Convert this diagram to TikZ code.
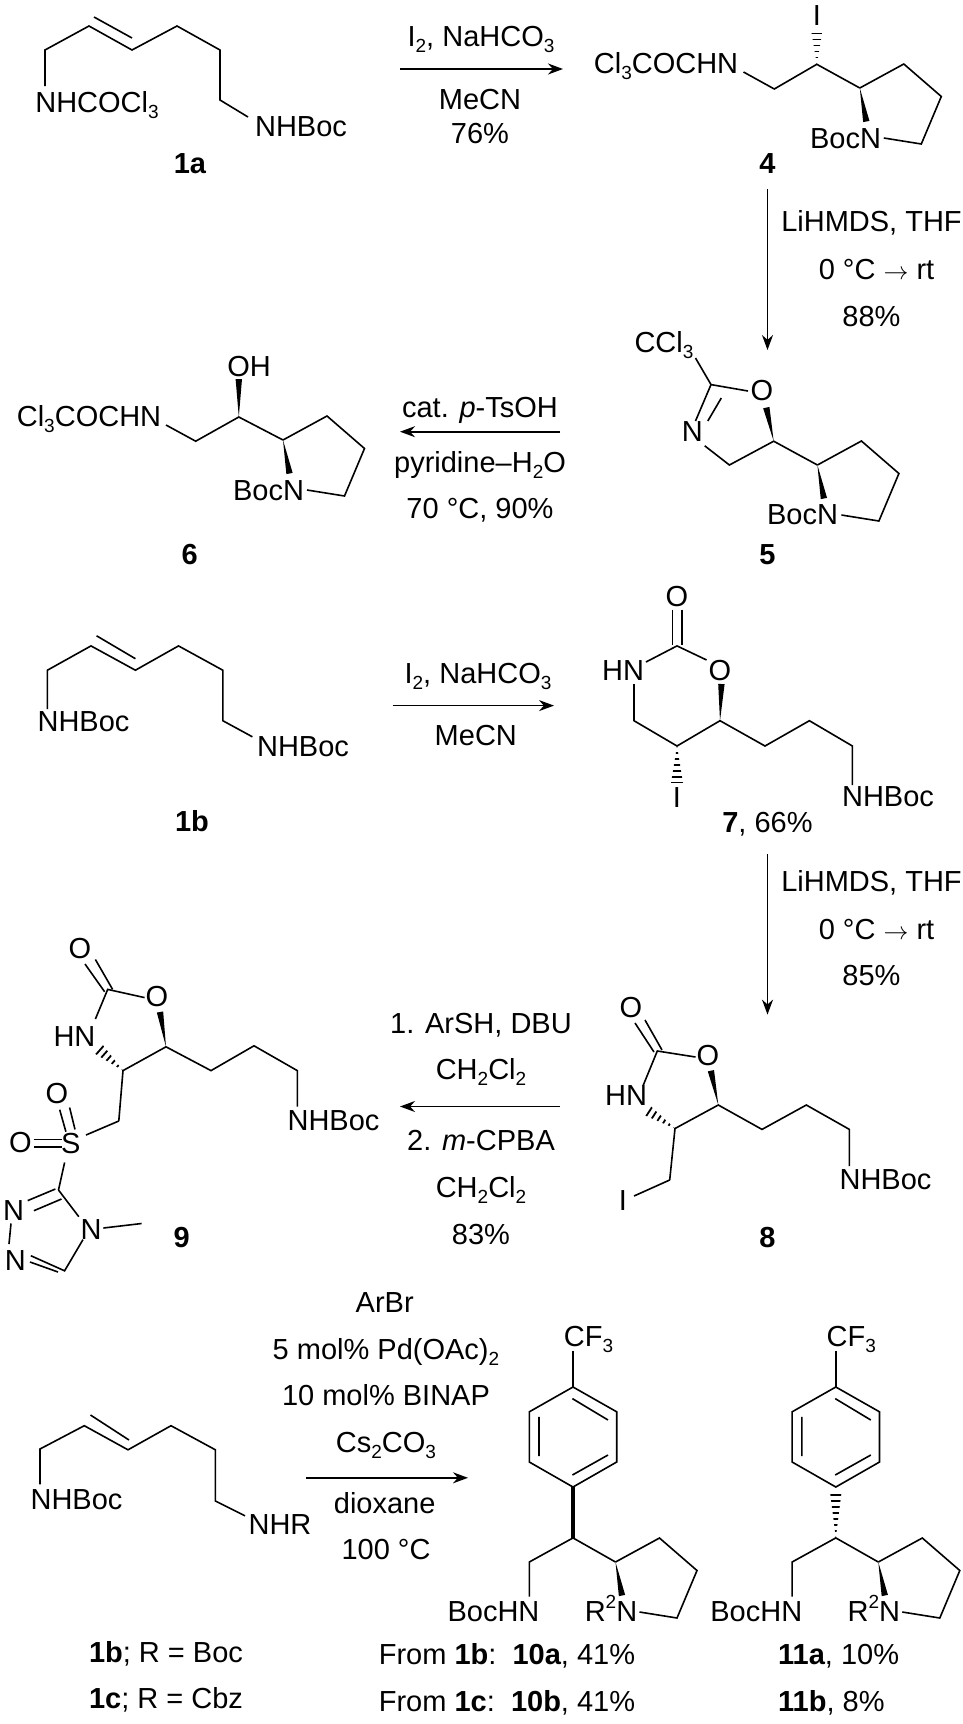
\documentclass[tikz,border=0pt]{standalone}
\usepackage{fontspec}
\setmainfont{Liberation Sans}
\usepgflibrary{arrows.meta}
\usetikzlibrary{calc}
\tikzset{
	txt/.style={font=\fontsize{29}{30}\selectfont,inner sep=0pt,anchor=base},
	cmpd/.style={txt,font=\fontsize{29}{30}\selectfont\bfseries},
	bond/.style={line width=1.6pt,line join=miter},
	rxn/.style={line width=1.6pt,-{Stealth[length=15pt,width=11pt]}},
	bold/.style={line width=4.6pt},
}
\newcommand{\subs}[1]{\raisebox{-0.22em}{\fontsize{19}{20}\selectfont #1}}
\newcommand{\sups}[1]{\raisebox{0.42em}{\fontsize{19}{20}\selectfont #1}}
\newcommand{\wdg}[2]{\fill #1 -- ($#2!3.2pt!90:#1$) -- ($#2!3.2pt!-90:#1$) -- cycle;}
\newcommand{\hsh}[2]{\begin{scope}
	\clip #1 -- ($#2!6pt!90:#1$) -- ($#2!6pt!-90:#1$) -- cycle;
	\draw [line width=13pt,dash pattern=on 1.8pt off 4.2pt] #1 -- #2;
	\end{scope}}
\newcommand{\pyrr}[2]{\begin{scope}[shift={(#1,#2)}]
	\draw [bond] (0,0) -- (44,-24) -- (81.5,8.5) -- (61.5,56) -- (24,50);
	\wdg{(0,0)}{(6.5,33.5)}
	\end{scope}}
\begin{document}
\begin{tikzpicture}[x=1pt,y=-1pt]
	\useasboundingbox (0,0) rectangle (962,1724);

	% 1a -> 4
	\draw [bond] (45,86) -- (45,50) -- (89,26) -- (132,50) -- (177,26) -- (220,50) -- (220,100) -- (248,117);
	\draw [bond] (94,17) -- (132,38);
	\node [txt] (nCl1a) at (97,112) {NHCOCl\subs{3}};
	\node [txt] (nBoc1a) at (301,136) {NHBoc};
	\node [cmpd] (n1a) at (190,173) {1a};

	\coordinate (r1s) at (400,69);
	\coordinate (r1e) at (563,69);
	\draw [rxn] (r1s) -- (r1e);
	\node [txt] (r1a) at (481,46) {I\subs{2}, NaHCO\subs{3}};
	\node [txt] (r1b) at (480,109) {MeCN};
	\node [txt] (r1c) at (480,143) {76\%};

	\node [txt] (nCl4) at (666,73) {Cl\subs{3}COCHN};
	\draw [bond] (743.5,72) -- (774.3,89) -- (816.8,64.3) -- (859.8,88);
	\hsh{(816.8,64.3)}{(816.8,29)}
	\node [txt] (nI4) at (816.8,25) {I};
	\pyrr{859.8}{88}
	\node [txt] (nBoc4) at (845.5,148.5) {BocN};
	\node [cmpd] (n4) at (767.5,173) {4};

	% 4 -> 5
	\coordinate (r2s) at (767.5,189);
	\coordinate (r2e) at (767.5,350);
	\draw [rxn] (r2s) -- (r2e);
	\node [txt] (r2a) at (871.5,231.5) {LiHMDS, THF};
	\node [txt] (r2b) at (876.5,279) {0 °C $\rightarrow$ rt};
	\node [txt] (r2c) at (871.5,326) {88\%};

	\node [txt] (nCCl5) at (664,352) {CCl\subs{3}};
	\draw [bond] (695.5,358) -- (711,384.6) -- (748,391);
	\draw [bond] (711,384.6) -- (695.5,421);
	\draw [bond] (721.3,398) -- (707.8,421);
	\node [txt] (nO5) at (762,400) {O};
	\node [txt] (nN5) at (692.4,441) {N};
	\draw [bond] (704.7,445.8) -- (729.4,465) -- (773.7,441.2) -- (817.4,465);
	\wdg{(773.7,441.2)}{(766.3,407.6)}
	\pyrr{817.4}{465}
	\node [txt] (nBoc5) at (802.5,524) {BocN};
	\node [cmpd] (n5) at (767.5,564) {5};

	% 5 -> 6
	\coordinate (r3s) at (560,431.7);
	\coordinate (r3e) at (400,431.7);
	\draw [rxn] (r3s) -- (r3e);
	\node [txt] (r3a) at (480,417) {cat. \textit{p}-TsOH};
	\node [txt] (r3b) at (480,472.6) {pyridine–H\subs{2}O};
	\node [txt] (r3c) at (480,518.6) {70 °C, 90\%};

	\node [txt] (nCl6) at (89,426) {Cl\subs{3}COCHN};
	\draw [bond] (166,425) -- (195.7,441.2) -- (238.8,417) -- (283,440);
	\wdg{(238.8,417)}{(238.8,379)}
	\node [txt] (nOH6) at (249,376) {OH};
	\pyrr{283}{440}
	\node [txt] (nBoc6) at (268.5,500) {BocN};
	\node [cmpd] (n6) at (189.6,564) {6};

	% 1b -> 7
	\draw [bond] (47.4,709) -- (47.4,670.2) -- (91,645.9) -- (135.4,670.2) -- (178.5,645.9) -- (222.8,670.2) -- (222.8,720.7) -- (252.4,736.8);
	\draw [bond] (96.6,635.8) -- (135.4,658.7);
	\node [txt] (nBoc1b) at (83.5,731) {NHBoc};
	\node [txt] (nBocb) at (303,756) {NHBoc};
	\node [cmpd] (n1b) at (192,831) {1b};

	\coordinate (r4s) at (392.7,705.6);
	\coordinate (r4e) at (554,705.6);
	\draw [rxn] (r4s) -- (r4e);
	\node [txt] (r4a) at (478,683) {I\subs{2}, NaHCO\subs{3}};
	\node [txt] (r4b) at (475.8,745) {MeCN};

	\node [txt] (nO7) at (677,606) {O};
	\draw [bond] (672.5,609.6) -- (672.5,645) (682,609.6) -- (682,645);
	\draw [bond] (706.6,660) -- (677,645.9) -- (646,662);
	\node [txt] (nO7b) at (720,680) {O};
	\node [txt] (nHN7) at (623,680) {HN};
	\draw [bond] (634,684) -- (634,720.7) -- (677,746) -- (720,720.7) -- (765,746) -- (809.4,720.7) -- (852.4,746) -- (852.4,785);
	\wdg{(720,720.7)}{(721.4,684)}
	\hsh{(677,746)}{(677,783)}
	\node [txt] (nI7) at (677,807) {I};
	\node [txt] (nBoc7) at (888,806.6) {NHBoc};
	\node [txt] (n7) at (767.5,832) {\textbf{7}, 66\%};

	% 7 -> 8
	\coordinate (r5s) at (767.5,854);
	\coordinate (r5e) at (767.5,1014.6);
	\draw [rxn] (r5s) -- (r5e);
	\node [txt] (r5a) at (871.5,891.5) {LiHMDS, THF};
	\node [txt] (r5b) at (876.5,939) {0 °C $\rightarrow$ rt};
	\node [txt] (r5c) at (871.5,985.7) {85\%};

	\node [txt] (nO8) at (631,1017) {O};
	\draw [bond] (635,1023) -- (654,1052) (645,1020) -- (662,1050);
	\draw [bond] (695.5,1057) -- (657.3,1051) -- (643,1085.8);
	\node [txt] (nO8b) at (707.8,1065) {O};
	\node [txt] (nHN8) at (626,1105) {HN};
	\hsh{(675,1128.5)}{(645,1109)}
	\draw [bond] (669.7,1180) -- (675,1128.5) -- (718.3,1105) -- (762,1129.4) -- (806.3,1105) -- (849.4,1129.4) -- (849.4,1166);
	\draw [bond] (669.7,1180) -- (634,1196);
	\wdg{(718.3,1105)}{(710.9,1070.7)}
	\node [txt] (nI8) at (623,1210.6) {I};
	\node [txt] (nBoc8) at (885.5,1189) {NHBoc};
	\node [cmpd] (n8) at (767.5,1247) {8};

	% 8 -> 9
	\coordinate (r6s) at (560,1106.5);
	\coordinate (r6e) at (400,1106.5);
	\draw [rxn] (r6s) -- (r6e);
	\node [txt] (r6a) at (481,1033) {1. ArSH, DBU};
	\node [txt] (r6b) at (481,1079) {CH\subs{2}Cl\subs{2}};
	\node [txt] (r6c) at (481,1150) {2. \textit{m}-CPBA};
	\node [txt] (r6d) at (481,1197) {CH\subs{2}Cl\subs{2}};
	\node [txt] (r6y) at (481,1244) {83\%};

	\node [txt] (nO9) at (80,958) {O};
	\draw [bond] (85,964) -- (104.6,991.7) (95.4,959.5) -- (112.6,989.4);
	\draw [bond] (144.6,997.6) -- (107.7,989.4) -- (95.4,1019);
	\node [txt] (nO9b) at (157,1006) {O};
	\node [txt] (nHN9) at (74.5,1046.8) {HN};
	\hsh{(123,1070.6)}{(98.5,1049)}
	\draw [bond] (118.8,1121) -- (123,1070.6) -- (166,1046.8) -- (211,1070.6) -- (254,1045.8) -- (297.3,1070.6) -- (297.3,1106.5);
	\draw [bond] (118.8,1121) -- (86,1135);
	\wdg{(166,1046.8)}{(160,1012)}
	\node [txt] (nBoc9) at (333.5,1130.8) {NHBoc};
	\node [txt] (nS9) at (70.8,1153) {S};
	\node [txt] (nOa9) at (20.3,1152) {O};
	\node [txt] (nOb9) at (57,1103.6) {O};
	\draw [bond] (33.9,1139.5) -- (61.5,1139.5) (33.9,1147) -- (61.5,1147);
	\draw [bond] (59.7,1109.7) -- (65.9,1131.7) (69.6,1107.5) -- (75,1129.4);
	\draw [bond] (64.6,1162.5) -- (58.5,1190);
	\draw [bond] (27.7,1200.6) -- (55.4,1189) (33.9,1210.7) -- (61.5,1199);
	\draw [bond] (58.5,1190) -- (78.8,1216.7);
	\node [txt] (nNa9) at (13.5,1220) {N};
	\node [txt] (nNb9) at (91,1239.6) {N};
	\node [txt] (nNc9) at (15.4,1270) {N};
	\draw [bond] (11,1223.5) -- (9,1244);
	\draw [bond] (103.4,1228) -- (141.6,1223.5);
	\draw [bond] (83,1239.6) -- (64.6,1270.8) -- (30.8,1255.7);
	\draw [bond] (58,1272) -- (30,1262);
	\node [cmpd] (n9) at (181.6,1247) {9};

	% 1b,1c -> 10, 11
	\draw [bond] (40,1484.4) -- (40,1449) -- (84.3,1425.7) -- (128,1449.8) -- (171,1425.7) -- (215.4,1449.8) -- (215.4,1501) -- (245,1515.8);
	\draw [bond] (90.5,1415) -- (129,1440);
	\node [txt] (nBoc1c) at (76.5,1509) {NHBoc};
	\node [txt] (nNHR) at (280,1534.6) {NHR};
	\node [txt] (n1bb) at (166,1662.6) {\textbf{1b}; R = Boc};
	\node [txt] (n1c) at (166,1708.8) {\textbf{1c}; R = Cbz};

	\coordinate (r7s) at (306,1477.8);
	\coordinate (r7e) at (468,1477.8);
	\draw [rxn] (r7s) -- (r7e);
	\node [txt] (r7a) at (384.7,1312.8) {ArBr};
	\node [txt] (r7b) at (386,1359) {5 mol\% Pd(OAc)\subs{2}};
	\node [txt] (r7c) at (386,1405) {10 mol\% BINAP};
	\node [txt] (r7d) at (386,1452) {Cs\subs{2}CO\subs{3}};
	\node [txt] (r7f) at (384.7,1513) {dioxane};
	\node [txt] (r7g) at (386,1559.6) {100 °C};

	\foreach \dx/\lab in {0/a,262.8/b} {
		\begin{scope}[xshift=\dx pt]
			\draw [bond] (573,1350.8) -- (573,1387);
			\draw [bond] (573,1387) -- (616.7,1411.8) -- (616.7,1462) -- (573,1487) -- (529.3,1462) -- (529.3,1411.8) -- cycle;
			\draw [bond] (572.4,1398.6) -- (608,1420) (539,1416.8) -- (539,1456) (572.4,1475) -- (608,1455);
			\draw [bond] (529.3,1596.6) -- (529.3,1562) -- (573,1537.9) -- (615.5,1562);
			\pyrr{615.5}{1562}
			\node [txt] (nCF\lab) at (588.5,1346.5) {CF\subs{3}};
			\node [txt] (nHN\lab) at (493.5,1621) {BocHN};
			\node [txt] (nR\lab) at (611,1621) {R\sups{2}N};
		\end{scope}
	}
	\draw [bold] (573,1487) -- (573,1538);
	\hsh{(835.8,1537.9)}{(835.8,1490)}

	\node [txt] (n10a) at (507,1664) {From \textbf{1b}:\ \ \textbf{10a}, 41\%};
	\node [txt] (n10b) at (507,1711) {From \textbf{1c}:\ \ \textbf{10b}, 41\%};
	\node [txt,anchor=base west] (n11a) at (778,1664) {\textbf{11a}, 10\%};
	\node [txt,anchor=base west] (n11b) at (778,1711) {\textbf{11b}, 8\%};
\end{tikzpicture}
\end{document}
